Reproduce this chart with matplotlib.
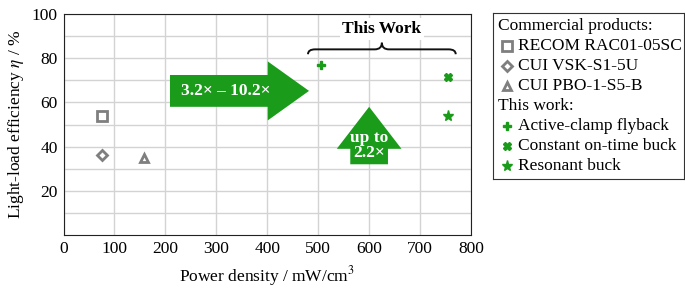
import matplotlib
matplotlib.use("Agg")
import matplotlib.pyplot as plt
from matplotlib.path import Path
from matplotlib.patches import PathPatch

plt.rcParams['font.family'] = ['Liberation Serif', 'DejaVu Serif']
plt.rcParams['mathtext.fontset'] = 'stix'

# commercial products
com_names = ['RECOM RAC01-05SC', 'CUI VSK-S1-5U', 'CUI PBO-1-S5-B']
com_density = [75, 75, 158]
com_eff = [54, 36, 35]
com_markers = ['s', 'D', '^']
com_sizes = [7, 5, 6]

# this work
tw_names = ['Active-clamp flyback', 'Constant on-time buck', 'Resonant buck']
tw_density = [505, 755, 755]
tw_eff = [77, 71.5, 54]
tw_markers = ['P', 'X', '*']
tw_sizes = [6, 5.5, 8]

gray = '#7f7f7f'
green = '#1a9c1a'
fs = 12.5

fig = plt.figure(figsize=(6.85, 2.88), dpi=100)
ax = fig.add_axes([63.5 / 685, 53 / 288, 407.5 / 685, 221 / 288])

ax.set_xlim(0, 800)
ax.set_ylim(0, 100)
ax.set_xticks(range(0, 801, 100))
ax.set_yticks([20, 40, 60, 80, 100])
ax.set_yticks(range(10, 100, 20), minor=True)
ax.grid(True, which='both', color='#d3d3d3', lw=1)
ax.set_axisbelow(True)
ax.tick_params(which='both', length=0, labelsize=fs, pad=4)
for s in ax.spines.values():
    s.set_color('#222222')
ax.set_xlabel('Power density / mW/cm$^3$', fontsize=fs, labelpad=5)
ax.set_ylabel(r'Light-load efficiency $\eta$ / %', fontsize=fs, labelpad=4)

for x, y, m, s in zip(com_density, com_eff, com_markers, com_sizes):
    ax.plot(x, y, marker=m, ms=s, mfc='white', mec=gray, mew=2, ls='none', zorder=4)
for x, y, m, s in zip(tw_density, tw_eff, tw_markers, tw_sizes):
    ax.plot(x, y, marker=m, ms=s, color=green, mec=green, ls='none', zorder=4)

# big arrows
ax.arrow(209, 65.2, 273, 0, width=14.4, head_width=26.7, head_length=81,
         length_includes_head=True, color=green, lw=0, zorder=3)
ax.text(319, 65.2, '3.2× – 10.2×', color='white', fontsize=fs, fontweight='bold',
        ha='center', va='center', zorder=5)
ax.arrow(600, 32, 0, 26, width=74, head_width=127, head_length=19,
         length_includes_head=True, color=green, lw=0, zorder=3)
ax.text(600, 40.5, 'up to\n2.2×', color='white', fontsize=fs, fontweight='bold',
        ha='center', va='center', linespacing=0.85, zorder=5)

# brace over this work
bx0, bx1, bxm, by, bh, tip = 480, 770, 625, 84, 2.2, 3
verts = [(bx0, by - bh), (bx0, by), (bx0 + 14, by), (bxm - 14, by),
         (bxm, by), (bxm, by + tip), (bxm, by), (bxm + 14, by),
         (bx1 - 14, by), (bx1, by), (bx1, by - bh)]
codes = [Path.MOVETO, Path.CURVE3, Path.CURVE3, Path.LINETO,
         Path.CURVE3, Path.CURVE3, Path.CURVE3, Path.CURVE3,
         Path.LINETO, Path.CURVE3, Path.CURVE3]
ax.add_patch(PathPatch(Path(verts, codes), fc='none', ec='#111111', lw=1.4, zorder=4))
ax.text(bxm, 93.3, 'This Work', fontsize=fs, fontweight='bold', ha='center', va='center',
        bbox=dict(fc='white', ec='none', pad=2), zorder=5)

# legend box drawn by hand
lax = fig.add_axes([493 / 685, (288 - 179) / 288, 191 / 685, 166 / 288])
lax.set_xlim(0, 191)
lax.set_ylim(166, 0)
lax.set_xticks([])
lax.set_yticks([])
for s in lax.spines.values():
    s.set_color('#333333')
row = 19.9
top = 13.5
lax.text(5, top, 'Commercial products:', fontsize=fs, va='center')
for i, (n, m, s) in enumerate(zip(com_names, com_markers, com_sizes)):
    yy = top + row * (i + 1)
    lax.plot(14, yy, marker=m, ms=s, mfc='white', mec=gray, mew=2, ls='none')
    lax.text(25, yy, n, fontsize=fs, va='center')
lax.text(5, top + row * 4, 'This work:', fontsize=fs, va='center')
for i, (n, m, s) in enumerate(zip(tw_names, tw_markers, tw_sizes)):
    yy = top + row * (i + 5)
    lax.plot(14, yy, marker=m, ms=s, color=green, ls='none')
    lax.text(25, yy, n, fontsize=fs, va='center')

fig.savefig('out.png', dpi=100)
